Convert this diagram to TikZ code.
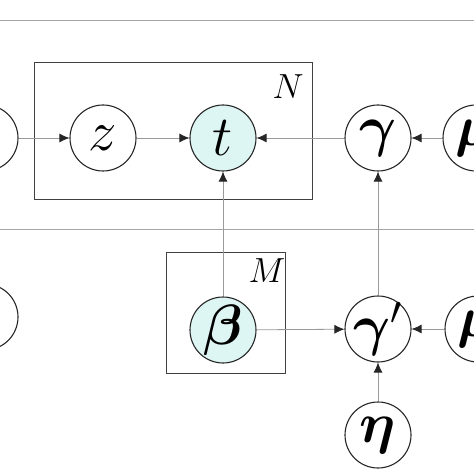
\RequirePackage{fix-cm}
\documentclass[tikz,border=0pt]{standalone}
\usepackage{amsmath,amssymb,bm}
\usetikzlibrary{arrows.meta}
\definecolor{obsfill}{HTML}{DDF5F3}
\definecolor{edgegray}{HTML}{9A9A9A}
\begin{document}
\begin{tikzpicture}[x=1bp,y=-1bp,
    var/.style={circle,draw=black!85,line width=1.1bp,minimum size=66bp,inner sep=0pt,font=\fontsize{57}{60}\selectfont},
    obs/.style={var,fill=obsfill},
    edge/.style={draw=edgegray,line width=0.8bp,-{Latex[length=10bp,width=9bp,color=black!85]}},
    plate/.style={draw=black!75,line width=1bp},
    platelabel/.style={font=\fontsize{35}{38}\selectfont}]
	\useasboundingbox (0,0) rectangle (474,474);
	\clip (0,0) rectangle (474,474);
	% separators
	\draw [gray!70,line width=0.8bp] (0,20) -- (474,20) (0,229) -- (474,229);
	% plates
	\draw [plate] (34,63) rectangle (312,200);
	\node [platelabel] (labN) at (288,87) {$N$};
	\draw [plate] (166,252) rectangle (285,373);
	\node [platelabel] (labM) at (267,271) {$M$};
	% variables
	\node [var] (theta) at (-15,138) {};
	\node [var] (z) at (103,138) {$z$};
	\node [obs] (t) at (223,138) {$t$};
	\node [var] (gamma) at (378,138) {$\bm{\gamma}$};
	\node [var] (mu) at (476,138) {$\bm{\mu}$};
	\node [var] (phi) at (-15,317) {};
	\node [obs] (beta) at (223,330) {$\bm{\beta}$};
	\node [var,inner sep=-9bp] (gammap) at (378,329) {$\bm{\gamma}'$};
	\node [var] (mup) at (478,329) {$\bm{\mu}$};
	\node [var] (eta) at (378,435) {$\bm{\eta}$};
	% edges
	\draw [edge] (theta) -- (z);
	\draw [edge] (z) -- (t);
	\draw [edge] (gamma) -- (t);
	\draw [edge] (mu) -- (gamma);
	\draw [edge] (beta) -- (t);
	\draw [edge] (gammap) -- (gamma);
	\draw [edge] (beta) -- (gammap);
	\draw [edge] (mup) -- (gammap);
	\draw [edge] (eta) -- (gammap);
\end{tikzpicture}
\end{document}
